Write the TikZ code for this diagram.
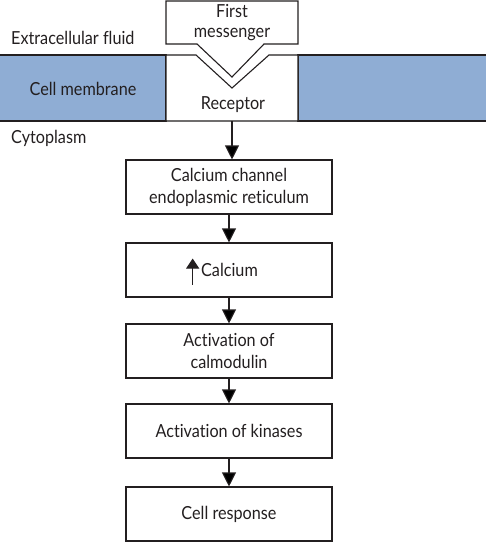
\documentclass[tikz,border=0pt]{standalone}
\usepackage{fontspec}
\setmainfont{Lato}[FakeStretch=0.9, Ligatures=NoCommon]
\usetikzlibrary{arrows.meta}
\definecolor{mem}{RGB}{143,173,212}
\definecolor{ink}{RGB}{35,31,32}
\newcommand{\upArr}{\smash{\tikz[baseline=0pt]\draw[ink, line width=1.1pt, -{Triangle[width=13pt,length=10pt]}] (0pt,-8pt)--(0pt,18pt);}\hspace{2pt}}

\begin{document}
\begin{tikzpicture}[x=1pt, y=-1pt,
    ln/.style={draw=ink, line width=1.1pt},
    lbl/.style={inner sep=0pt, text=ink, align=center, font=\fontsize{18}{20}\selectfont},
    box/.style={draw=ink, line width=1.1pt, fill=white, minimum width=206pt, minimum height=54pt,
      align=center, text=ink, font=\fontsize{18}{22}\selectfont},
    arr/.style={draw=ink, line width=1.1pt, -{Triangle[width=14pt,length=14pt]}}]
      \useasboundingbox (0,0) rectangle (485,543);
      % membrane
      \draw[ln, fill=mem] (-5,55) rectangle (166,121);
      \draw[ln, fill=mem] (298,55) rectangle (490,121);
      % receptor and first messenger
      \draw[ln, fill=white] (196,55) -- (166,55) -- (166,121) -- (298,121) -- (298,55) -- (269,55) -- (232,88) -- cycle;
      \draw[ln, fill=white] (166,1) -- (298,1) -- (298,44) -- (264,44) -- (232,77) -- (197,44) -- (166,44) -- cycle;
      \node[lbl, anchor=west] (ecf) at (11,38) {Extracellular fluid};
      \node[lbl, anchor=west] (cyt) at (11,138) {Cytoplasm};
      \node[lbl] (cmb) at (83,89) {Cell membrane};
      \node[lbl] (rcp) at (233,105) {Receptor};
      \node[lbl] (fms) at (232,23) {First\\messenger};
      \coordinate (rec) at (232,121);
      % cascade
      \node[box] (cch) at (229,187) {Calcium channel\\endoplasmic reticulum};
      \node[box] (cal) at (229,270) {\upArr Calcium\hspace{14pt}\mbox{}};
      \node[box] (cmd) at (229,351) {Activation of\\calmodulin};
      \node[box] (kin) at (229,431) {Activation of kinases};
      \node[box] (rsp) at (229,514) {Cell response};
      \draw[arr] (rec) -- (rec |- cch.north);
      \draw[arr] (cch) -- (cal);
      \draw[arr] (cal) -- (cmd);
      \draw[arr] (cmd) -- (kin);
      \draw[arr] (kin) -- (rsp);
\end{tikzpicture}
\end{document}
